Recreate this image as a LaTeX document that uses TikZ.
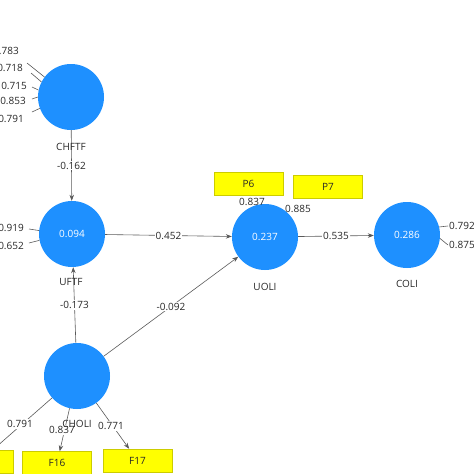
\documentclass[tikz,border=0pt]{standalone}
\usepackage{fontspec}
\setmainfont{Open Sans}
\usetikzlibrary{arrows.meta}
\definecolor{lv}{RGB}{30,144,255}
\definecolor{ind}{RGB}{255,255,0}
\definecolor{txt}{RGB}{40,40,40}
\definecolor{ln}{RGB}{90,90,90}
\tikzset{
  lvnode/.style={circle,fill=lv,draw=none,minimum size=66pt,inner sep=0pt,text=white,font=\fontsize{10}{12}\selectfont},
  indbox/.style={rectangle,fill=ind,draw=ind!80!black,line width=0.4pt,minimum width=69pt,minimum height=23pt,inner sep=0pt,text=txt,font=\fontsize{10}{12}\selectfont},
  lbl/.style={text=txt,font=\fontsize{10}{12}\selectfont,inner sep=1pt},
  wlbl/.style={lbl,fill=white},
  conn/.style={draw=ln,line width=0.6pt},
  arr/.style={conn,-{Stealth[length=6pt,width=4.5pt]}},
}
\begin{document}
\begin{tikzpicture}[x=1pt,y=-1pt]
\useasboundingbox (0,0) rectangle (474,474);
\clip (0,0) rectangle (474,474);
% latent variables
\node[lvnode] (chftf) at (71,97) {};
\node[lvnode] (uftf) at (72,234) {0.094};
\node[lvnode] (choli) at (77,376) {};
\node[lvnode] (uoli) at (265,237) {0.237};
\node[lvnode] (coli) at (407,235) {0.286};
% indicator boxes
\node[indbox] (p6) at (248.5,184) {P6};
\node[indbox] (p7) at (328,186.5) {P7};
\node[indbox] (f16) at (57,463) {F16};
\node[indbox] (f17) at (137.5,460.5) {F17};
\node[indbox] (f15) at (-21,462) {};
% structural paths
\draw[arr] (chftf) -- (uftf) node[wlbl,pos=0.5] (p1) {-0.162};
\draw[arr] (choli) -- (uftf) node[wlbl,pos=0.5] (p2) {-0.173};
\draw[arr] (uftf) -- (uoli) node[wlbl,pos=0.5] (p3) {0.452};
\draw[arr] (choli) -- (uoli) node[wlbl,pos=0.5] (p4) {-0.092};
\draw[arr] (uoli) -- (coli) node[wlbl,pos=0.5] (p5) {0.535};
% CHFTF loadings
\node[lbl,anchor=east] (c1) at (20,51) {0.783};
\node[lbl,anchor=east] (c2) at (24,68) {0.718};
\node[lbl,anchor=east] (c3) at (28,86) {0.715};
\node[lbl,anchor=east] (c4) at (27,101) {0.853};
\node[lbl,anchor=east] (c5) at (25,119) {0.791};
\coordinate (c1e) at (27,63);
\coordinate (c2e) at (31,73);
\coordinate (c3e) at (32,87);
\coordinate (c4e) at (32,99);
\coordinate (c5e) at (32,112);
\draw[conn] (c1e) -- (chftf.143);
\draw[conn] (c2e) -- (chftf.153);
\draw[conn] (c3e) -- (chftf.168);
\draw[conn] (c4e) -- (chftf.180);
\draw[conn] (c5e) -- (chftf.200);
% UFTF loadings
\node[lbl,anchor=east] (u1) at (25,228) {0.919};
\node[lbl,anchor=east] (u2) at (25,246) {0.652};
\coordinate (u1e) at (29,229);
\coordinate (u2e) at (29,243);
\draw[conn] (u1e) -- (uftf.174);
\draw[conn] (u2e) -- (uftf.191);
% COLI loadings
\node[lbl,anchor=west] (k1) at (448,226) {0.792};
\node[lbl,anchor=west] (k2) at (448,245) {0.875};
\draw[conn] (coli.14) -- (k1.west);
\draw[conn] (coli.-6) -- (k2.west);
% UOLI loadings
\node[lbl] (o1) at (252,202) {0.837};
\node[lbl] (o2) at (298,209) {0.885};
% CHOLI loadings
\draw[arr] (choli) -- (f15);
\node[wlbl] (l1) at (20,424) {0.791};
\draw[arr] (choli) -- (f16);
\node[wlbl] (l2) at (62,430) {0.837};
\draw[arr] (choli) -- (f17);
\node[wlbl] (l3) at (111,426) {0.771};
% construct names (drawn over lines)
\node[lbl] (nchftf) at (71,147) {CHFTF};
\node[lbl] (nuftf) at (71,282) {UFTF};
\node[lbl] (ncholi) at (77,424) {CHOLI};
\node[lbl] (nuoli) at (265,287) {UOLI};
\node[lbl] (ncoli) at (407,284) {COLI};
\end{tikzpicture}
\end{document}
